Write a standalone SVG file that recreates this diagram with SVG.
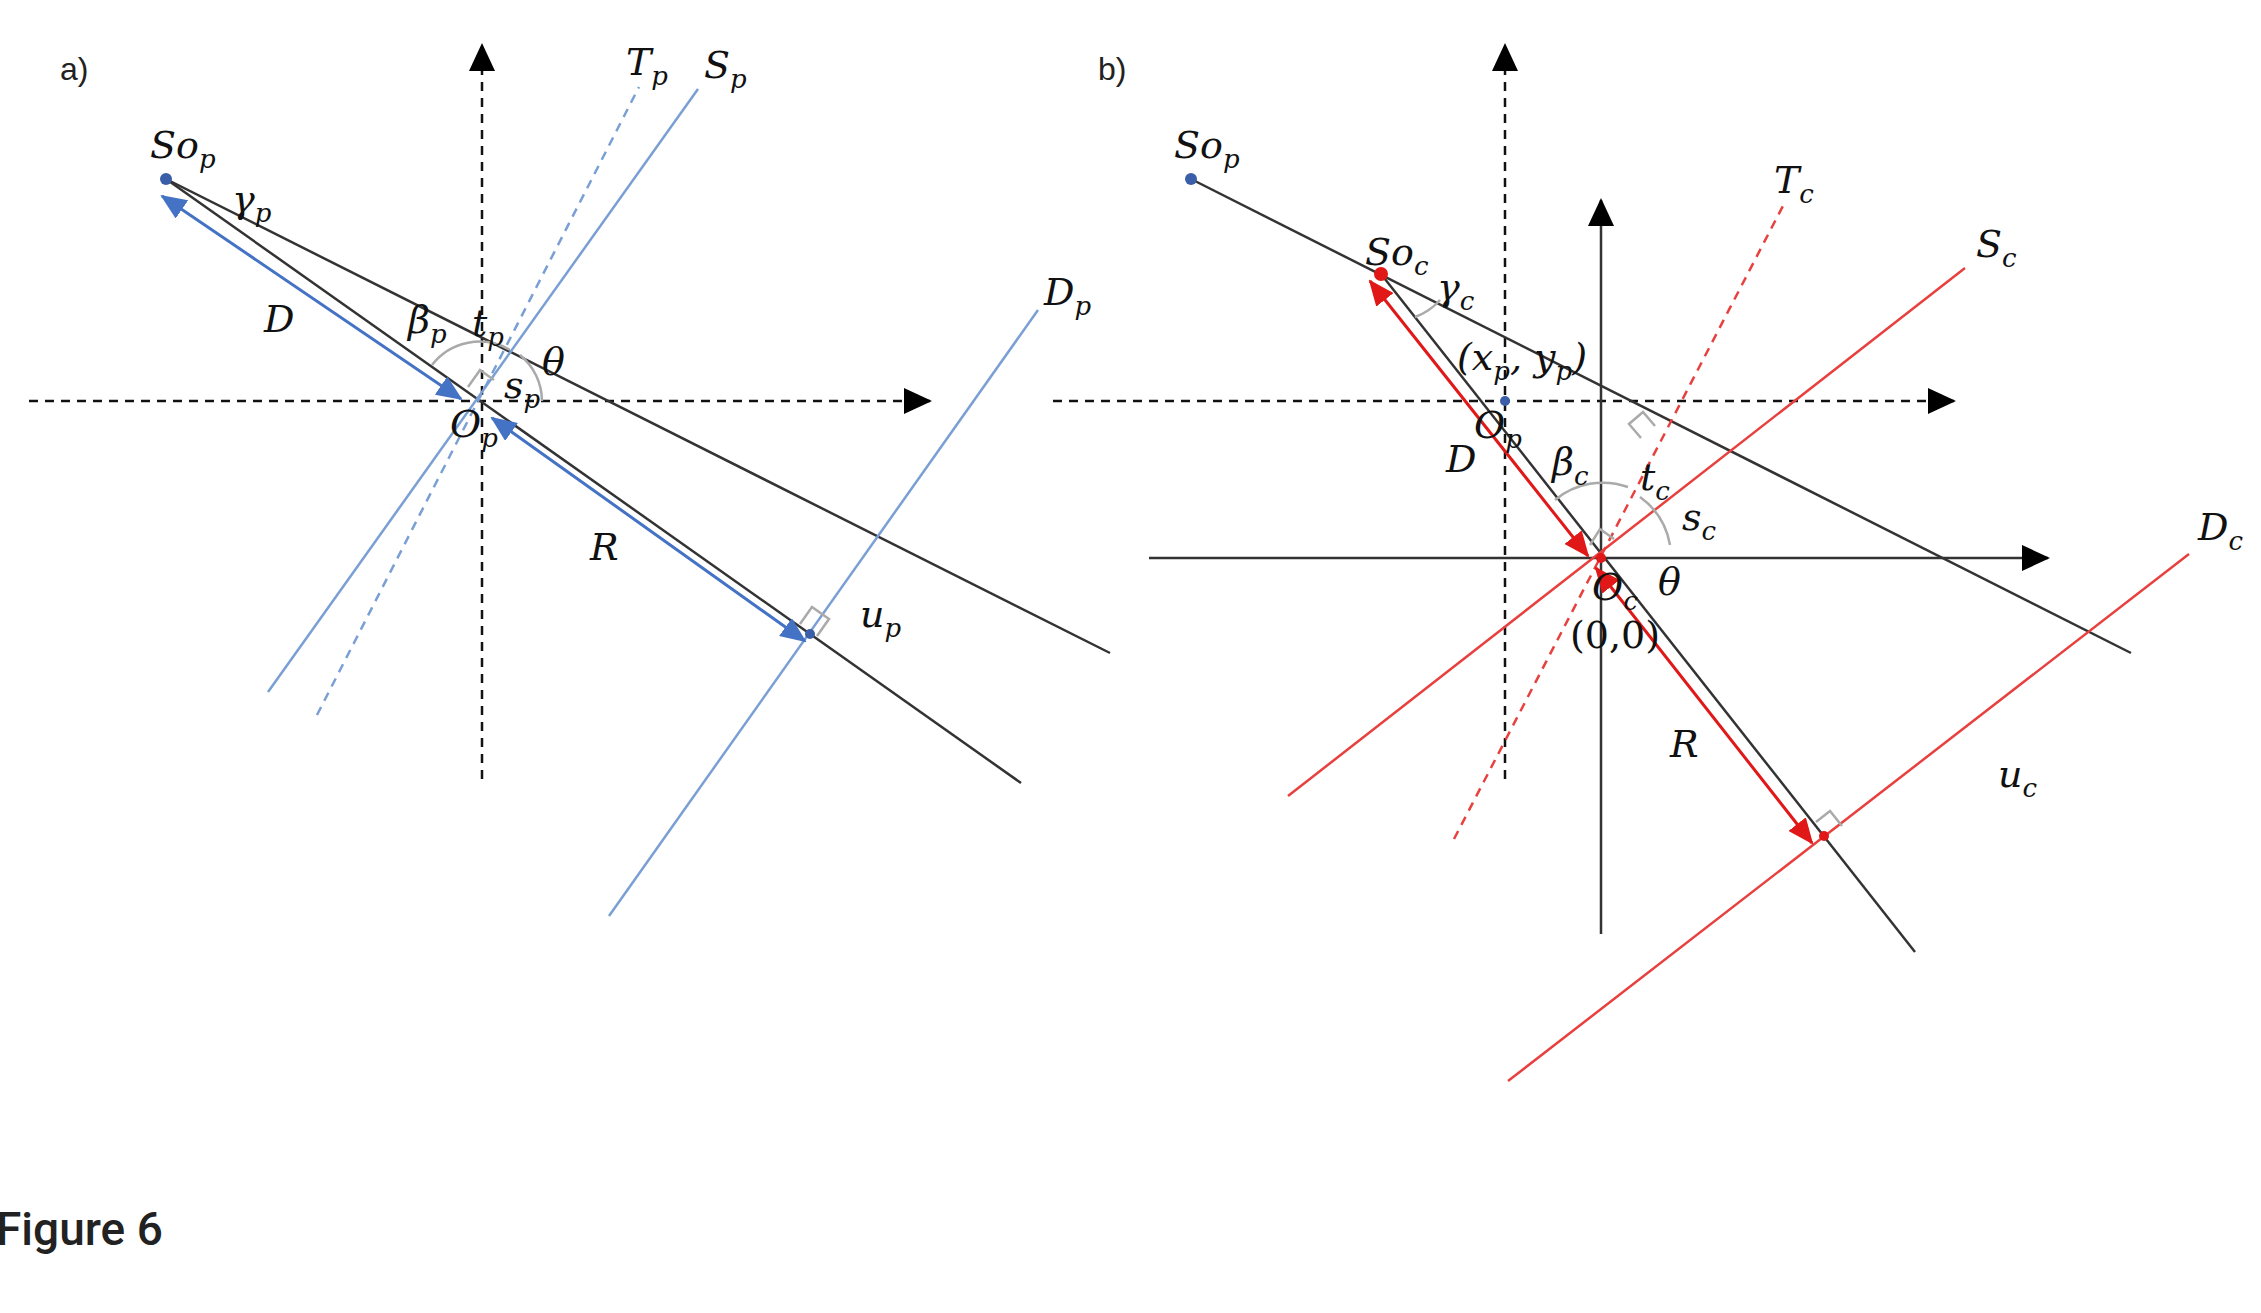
<svg xmlns="http://www.w3.org/2000/svg" width="2261" height="1313" viewBox="0 0 2261 1313">
<style>
.k{stroke:#333;stroke-width:2.5;fill:none}
.d{stroke:#111;stroke-width:2.5;stroke-dasharray:9 7;fill:none}
.b{stroke:#7a9fd4;stroke-width:2.5;fill:none}
.bd{stroke:#7a9fd4;stroke-width:2.5;stroke-dasharray:9 7;fill:none}
.ba{stroke:#4472c4;stroke-width:3;fill:none}
.r{stroke:#e8403e;stroke-width:2.5;fill:none}
.rd{stroke:#e8403e;stroke-width:2.5;stroke-dasharray:9 7;fill:none}
.ra{stroke:#e01818;stroke-width:3;fill:none}
.g{stroke:#aaa;stroke-width:2.5;fill:none}
.m{font-family:"DejaVu Serif","Liberation Serif",serif;font-style:italic;font-size:38px;fill:#111}
.n{font-family:"DejaVu Serif","Liberation Serif",serif;font-size:38px;fill:#111}
.s{font-size:26px}
.p{font-family:"Liberation Sans",Arial,sans-serif;font-size:32px;fill:#222}
</style>
<defs>
<marker id="ak" markerWidth="10" markerHeight="10" refX="8" refY="5" orient="auto" markerUnits="userSpaceOnUse" viewBox="0 0 10 10"><path d="M0,0L10,5L0,10z" fill="#000"/></marker>
<marker id="akb" markerWidth="28" markerHeight="26" refX="26" refY="13" orient="auto" markerUnits="userSpaceOnUse"><path d="M0,0L28,13L0,26z" fill="#000"/></marker>
<marker id="ab" markerWidth="26" markerHeight="22" refX="24" refY="11" orient="auto-start-reverse" markerUnits="userSpaceOnUse"><path d="M0,0L26,11L0,22z" fill="#4472c4"/></marker>
<marker id="ar" markerWidth="26" markerHeight="22" refX="24" refY="11" orient="auto-start-reverse" markerUnits="userSpaceOnUse"><path d="M0,0L26,11L0,22z" fill="#e01818"/></marker>
</defs>
<g id="connectors">
<!-- panel a -->
<line class="d" x1="482" y1="779" x2="482" y2="45" marker-end="url(#akb)"/>
<line class="d" x1="29" y1="401" x2="930" y2="401" marker-end="url(#akb)"/>
<line class="k" x1="166" y1="179" x2="1110" y2="653"/>
<line class="k" x1="166" y1="179" x2="1021" y2="783"/>
<line class="b" x1="268" y1="692" x2="698" y2="89"/>
<line class="bd" x1="317" y1="715" x2="639" y2="87"/>
<line class="b" x1="609" y1="916" x2="1038" y2="310"/>
<line class="ba" x1="461" y1="399" x2="162" y2="196" marker-start="url(#ab)" marker-end="url(#ab)"/>
<line class="ba" x1="492" y1="418" x2="805" y2="641" marker-start="url(#ab)" marker-end="url(#ab)"/>
<path class="g" d="M800,624 l12,-17 l17,12 l-12,17"/>
<path class="g" d="M468,387 l12,-17 l14,10"/>
<path class="g" d="M432,365 A60,60 0 0 1 510,350"/>
<path class="g" d="M520,355 A60,60 0 0 1 542,401"/>
<!-- panel b -->
<line class="d" x1="1505" y1="779" x2="1505" y2="45" marker-end="url(#akb)"/>
<line class="d" x1="1053" y1="401" x2="1954" y2="401" marker-end="url(#akb)"/>
<line class="k" x1="1601" y1="934" x2="1601" y2="200" marker-end="url(#akb)"/>
<line class="k" x1="1149" y1="558" x2="2048" y2="558" marker-end="url(#akb)"/>
<line class="k" x1="1191" y1="179" x2="2131" y2="653"/>
<line class="k" x1="1381" y1="274" x2="1915" y2="952"/>
<line class="r" x1="1288" y1="796" x2="1965" y2="268"/>
<line class="rd" x1="1454" y1="839" x2="1785" y2="202"/>
<line class="r" x1="1508" y1="1081" x2="2189" y2="554"/>
<line class="ra" x1="1588" y1="556" x2="1370" y2="281" marker-start="url(#ar)" marker-end="url(#ar)"/>
<line class="ra" x1="1596" y1="568" x2="1812" y2="843" marker-start="url(#ar)" marker-end="url(#ar)"/>
<path class="g" d="M1641,438 l-12,-14 l14,-12 l12,14"/>
<path class="g" d="M1816,822 l14,-11 l12,15"/>
<path class="g" d="M1590,545 l10,-16 l14,10"/>
<path class="g" d="M1555,500 A75,75 0 0 1 1628,487"/>
<path class="g" d="M1640,497 A75,75 0 0 1 1670,545"/>
<path class="g" d="M1415,317 A60,60 0 0 0 1440,300"/>
</g>
<g id="points">
<circle cx="166" cy="179" r="6" fill="#3a5ea8"/>
<circle cx="810" cy="634" r="5" fill="#3a5ea8"/>
<circle cx="1191" cy="179" r="6" fill="#3a5ea8"/>
<circle cx="1505" cy="401" r="5" fill="#3a5ea8"/>
<circle cx="1381" cy="274" r="7" fill="#e01818"/>
<circle cx="1601" cy="558" r="5" fill="#e01818"/>
<circle cx="1824" cy="836" r="5" fill="#e01818"/>
</g>
<g id="labels">
<text class="p" x="60" y="80">a)</text>
<text class="p" x="1098" y="80">b)</text>
<text class="m" x="150" y="158">So<tspan class="s" dy="10">p</tspan></text>
<text class="m" x="232" y="212">γ<tspan class="s" dy="10">p</tspan></text>
<text class="m" x="264" y="332">D</text>
<text class="m" x="408" y="333">β<tspan class="s" dy="10">p</tspan></text>
<text class="m" x="472" y="336">t<tspan class="s" dy="10">p</tspan></text>
<text class="m" x="542" y="375">θ</text>
<text class="m" x="504" y="398">s<tspan class="s" dy="10">p</tspan></text>
<text class="m" x="450" y="437">O<tspan class="s" dy="10">p</tspan></text>
<text class="m" x="590" y="560">R</text>
<text class="m" x="860" y="627">u<tspan class="s" dy="10">p</tspan></text>
<text class="m" x="626" y="75">T<tspan class="s" dy="10">p</tspan></text>
<text class="m" x="704" y="78">S<tspan class="s" dy="10">p</tspan></text>
<text class="m" x="1044" y="305">D<tspan class="s" dy="10">p</tspan></text>
<text class="m" x="1174" y="158">So<tspan class="s" dy="10">p</tspan></text>
<text class="m" x="1365" y="265">So<tspan class="s" dy="10">c</tspan></text>
<text class="m" x="1437" y="300">γ<tspan class="s" dy="10">c</tspan></text>
<text class="m" x="1457" y="370">(x<tspan class="s" dy="10">p</tspan><tspan dy="-10">, </tspan>y<tspan class="s" dy="10">p</tspan><tspan dy="-10">)</tspan></text>
<text class="m" x="1474" y="438">O<tspan class="s" dy="10">p</tspan></text>
<text class="m" x="1446" y="472">D</text>
<text class="m" x="1552" y="475">β<tspan class="s" dy="10">c</tspan></text>
<text class="m" x="1640" y="490">t<tspan class="s" dy="10">c</tspan></text>
<text class="m" x="1682" y="530">s<tspan class="s" dy="10">c</tspan></text>
<text class="m" x="1658" y="595">θ</text>
<text class="m" x="1592" y="600">O<tspan class="s" dy="10">c</tspan></text>
<text class="n" x="1570" y="648">(0,0)</text>
<text class="m" x="1670" y="757">R</text>
<text class="m" x="1998" y="787">u<tspan class="s" dy="10">c</tspan></text>
<text class="m" x="1774" y="193">T<tspan class="s" dy="10">c</tspan></text>
<text class="m" x="1976" y="257">S<tspan class="s" dy="10">c</tspan></text>
<text class="m" x="2198" y="540">D<tspan class="s" dy="10">c</tspan></text>
<text x="-4" y="1245" font-family="Roboto,'Liberation Sans',sans-serif" font-size="46" font-weight="500" fill="#222">Figure 6</text>
</g>
</svg>
